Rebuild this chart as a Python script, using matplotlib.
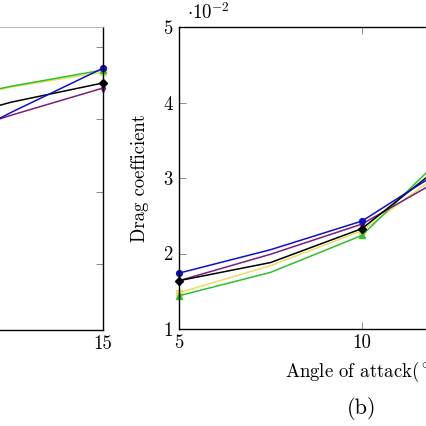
import matplotlib
matplotlib.use("Agg")
import matplotlib.pyplot as plt

plt.rcParams['font.family'] = ['cmr10', 'DejaVu Serif']
plt.rcParams['mathtext.fontset'] = 'cm'
plt.rcParams['axes.formatter.use_mathtext'] = True

# ---- data ----
angles = [5, 7.5, 10, 12.5, 15]

# left panel (a) -- only the right end is visible
left_blue = [0.55, 0.73, 0.89, 1.02, 1.142]
left_purple = [0.60, 0.78, 0.93, 1.012, 1.087]
left_black = [0.65, 0.82, 0.98, 1.048, 1.101]
left_yellow = [0.68, 0.86, 1.03, 1.09, 1.131]
left_green = [0.68, 0.86, 1.04, 1.092, 1.137]
left_yticks = [0.6, 0.8, 1.0, 1.2]
left_xticklabels = ['', '', '15']

# right panel (b) -- drag coefficient (x 10^-2)
drag_blue = [1.74, 2.05, 2.43, 3.20, 4.30]
drag_purple = [1.64, 1.99, 2.39, 3.08, 4.00]
drag_black = [1.64, 1.88, 2.33, 3.29, 4.40]
drag_yellow = [1.48, 1.84, 2.30, 3.19, 4.30]
drag_green = [1.44, 1.75, 2.24, 3.42, 4.60]
drag_yticks = [1, 2, 3, 4, 5]
xticks = [5, 10, 15]
right_xticklabels = ['5', '10', '']

styles = [
    ('#e8e060', 's'),   # yellow
    ('#2fbf2f', '^'),   # green
    ('#7a1f7a', 'd'),   # purple
    ('#000000', 'D'),   # black
    ('#1010c8', 'o'),   # blue
]

fig = plt.figure(figsize=(4.26, 4.26), dpi=100)
W = 426.0
def pos(left_px, right_px, top_px, bottom_px):
    return [left_px / W, 1 - bottom_px / W, (right_px - left_px) / W, (bottom_px - top_px) / W]

px_per_unit = 36.6
axL = fig.add_axes(pos(103 - 10 * px_per_unit, 103, 27, 330))
axR = fig.add_axes(pos(179, 179 + 10 * px_per_unit, 27, 329))

left_series = [left_yellow, left_green, left_purple, left_black, left_blue]
right_series = [drag_yellow, drag_green, drag_purple, drag_black, drag_blue]

for ax, series in ((axL, left_series), (axR, right_series)):
    for vals, (c, m) in zip(series, styles):
        ax.plot(angles, vals, color=c, marker=m, markersize=4.2, lw=1.1,
                markevery=2, clip_on=False)
    ax.set_xlim(5, 15)
    ax.set_xticks(xticks)
    ax.tick_params(direction='in', length=5, width=0.6, color='#777777',
                   labelsize=13.5, top=True, right=True, pad=4)
    for s in ax.spines.values():
        s.set_linewidth(1.0)
        s.set_color('black')

axL.set_ylim(0.417, 1.256)
axL.set_yticks(left_yticks)
axL.set_xticklabels(left_xticklabels)
axL.tick_params(labelleft=False)
axL.spines['top'].set_color('#aaaaaa')
axL.spines['top'].set_linewidth(0.6)

axR.set_ylim(1, 5)
axR.set_yticks(drag_yticks)
axR.set_xticklabels(right_xticklabels)
axR.set_ylabel('Drag coefficient', fontsize=13.5, labelpad=10)
axR.set_xlabel(r'Angle of attack($^\circ$)', fontsize=13.5, labelpad=5)

fig.text(187 / W, 1 - 13 / W, r'$\cdot 10^{-2}$', fontsize=13.5, va='center', ha='left')
fig.text(362 / W, 1 - 408 / W, '(b)', fontsize=16, va='center', ha='center')

fig.savefig('out.png', dpi=100)
